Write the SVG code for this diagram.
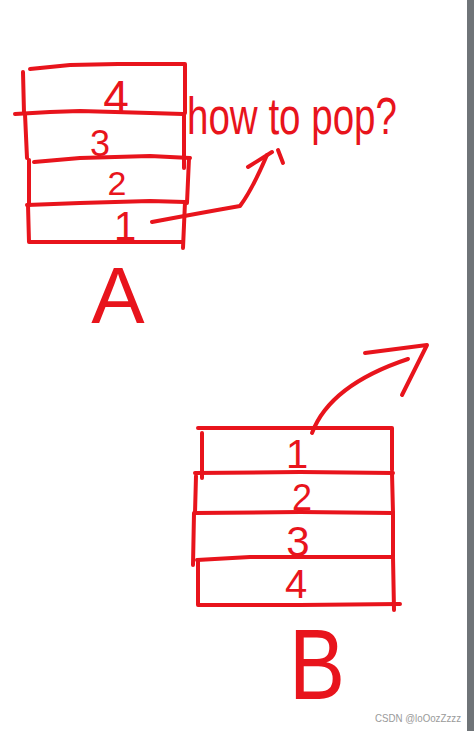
<svg xmlns="http://www.w3.org/2000/svg" width="474" height="731" viewBox="0 0 474 731">
<style>
.s{fill:none;stroke:#e8141c;stroke-width:4;stroke-linecap:round;stroke-linejoin:round}
.t{fill:#e8141c;font-family:"Liberation Sans",Arial,sans-serif;text-anchor:middle}
.w{fill:#9a9a9a;font-family:"Liberation Sans",Arial,sans-serif;font-size:11px}
</style>
<rect width="474" height="731" fill="#ffffff"/>
<rect x="467" y="0" width="7" height="731" fill="#6f7478"/>
<g id="stack-a">
  <g id="a-box4">
    <path class="s" d="M30 69 L70 65 L118 64 L185 64 L185 113"/>
    <path class="s" d="M23 72 L24 113"/>
    <text class="t" x="116" y="113" font-size="46">4</text>
  </g>
  <g id="a-box3">
    <path class="s" d="M15 114 L50 112 L80 111 L150 113 L183 114"/>
    <path class="s" d="M184 114 L184 168"/>
    <path class="s" d="M25 114 L27 158"/>
    <text class="t" x="100" y="156" font-size="36">3</text>
  </g>
  <g id="a-box2">
    <path class="s" d="M34 162 L80 158 L150 156 L190 158"/>
    <path class="s" d="M189 158 L187 203"/>
    <path class="s" d="M29 160 L29 205"/>
    <text class="t" x="117" y="195" font-size="34">2</text>
  </g>
  <g id="a-box1">
    <path class="s" d="M27 205 L80 203 L150 201 L185 202"/>
    <path class="s" d="M185 202 L183 248"/>
    <path class="s" d="M28 205 L29 242 L90 242 L183 242"/>
    <text class="t" x="125" y="240" font-size="40">1</text>
  </g>
  <g id="label-a"><text class="t" x="118" y="323" font-size="80">A</text></g>
</g>
<g id="question">
  <text class="t" x="292" y="134" font-size="52" textLength="210" lengthAdjust="spacingAndGlyphs">how to pop?</text>
</g>
<g id="stack-b">
  <g id="b-box1">
    <path class="s" d="M198 428 L260 428 L392 428 L392 470"/>
    <path class="s" d="M202 433 L202 478"/>
    <text class="t" x="297" y="468" font-size="40">1</text>
  </g>
  <g id="b-box2">
    <path class="s" d="M195 473 L300 472 L393 473"/>
    <path class="s" d="M196 476 L195 513"/>
    <path class="s" d="M392 473 L393 513"/>
    <text class="t" x="302" y="510" font-size="36">2</text>
  </g>
  <g id="b-box3">
    <path class="s" d="M195 513 L300 512 L393 513"/>
    <path class="s" d="M194 513 L193 565"/>
    <path class="s" d="M393 513 L393 557"/>
    <text class="t" x="298" y="556" font-size="42">3</text>
  </g>
  <g id="b-box4">
    <path class="s" d="M197 560 L250 557 L393 557"/>
    <path class="s" d="M198 560 L198 605 L300 605 L400 604"/>
    <path class="s" d="M393 557 L394 610"/>
    <text class="t" x="296" y="598" font-size="40">4</text>
  </g>
  <g id="label-b"><text class="t" x="317" y="699" font-size="100" textLength="56" lengthAdjust="spacingAndGlyphs">B</text></g>
</g>
<g id="connectors">
  <path class="s" d="M152 222 Q200 213 240 206 Q252 190 267 155"/>
  <path class="s" d="M248 167 L272 152"/>
  <path class="s" d="M278 150 L283 163"/>
  <path class="s" d="M312 433 Q330 385 408 359"/>
  <path class="s" d="M365 353 L427 345 L402 395"/>
</g>
<text class="w" x="375" y="722" textLength="86" lengthAdjust="spacingAndGlyphs">CSDN @loOozZzzz</text>
</svg>
